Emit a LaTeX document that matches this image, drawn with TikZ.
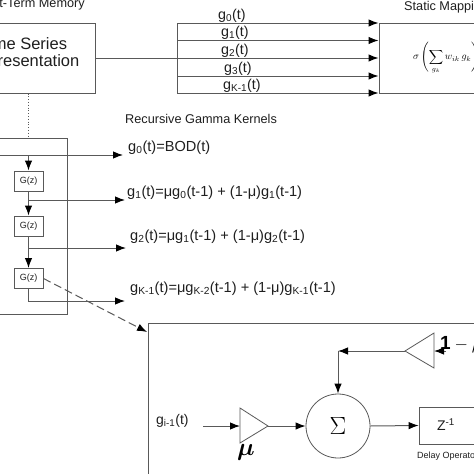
\documentclass[tikz,border=0pt]{standalone}
\usepackage{amsmath,amssymb}
\usepackage{fontspec}
\setmainfont{Liberation Sans}
\usepackage{xcolor}
\usetikzlibrary{arrows.meta,positioning,calc}
\definecolor{wireC}{gray}{0.35}
\definecolor{inkC}{gray}{0.12}
\tikzset{
  wire/.style={wireC,line width=1pt},
  wiretip/.style={wire,-{Latex[length=10pt,width=7.5pt,color=black]}},
  blockbox/.style={draw=wireC,line width=1pt,inner sep=0pt,text=inkC},
  gzbox/.style={blockbox,minimum width=29pt,minimum height=20pt,font=\fontsize{9}{10}\selectfont},
  eqn/.style={anchor=west,inner sep=0pt,text=inkC,font=\fontsize{14.6}{17}\selectfont},
  caption/.style={inner sep=0pt,text=inkC,font=\fontsize{12.7}{15}\selectfont}
}
\begin{document}
\begin{tikzpicture}[x=1pt,y=-1pt]
  \useasboundingbox (0,0) rectangle (474,474);
  \clip (0,0) rectangle (474,474);
  \fill[white] (0,0) rectangle (474,474);

  % Short-term memory
  \node[blockbox,minimum width=175pt,minimum height=70pt] (memory) at (8,58) {};
  \node[anchor=east,inner sep=0pt,align=center,text=inkC,font=\fontsize{16.5}{17}\selectfont] (memorytext) at (79.5,53.5) {Time Series\\Representation};
  \node[caption,anchor=east] (memorytitle) at (85,4) {Short-Term Memory};

  % Static mapping
  \node[blockbox,minimum width=200pt,minimum height=70pt] (static) at (479,58) {};
  \node[caption,anchor=west] (statictitle) at (404,7) {Static Mapping};
  \node[anchor=west,inner sep=0pt] (staticmath) at (413,58) {$\displaystyle\sigma\left(\sum_{g_k} w_{ik}\,g_k\right)$};

  % Bus with the kernel outputs
  \coordinate (busin) at (177,58);
  \draw[wire] (memory.east) -- (busin);
  \draw[wire] (177,23) -- (177,93);
  \foreach \yb/\name/\lab/\xl in {23/0/0/218,40.5/1/1/221,58/2/2/221,76/3/3/224,93/K/{K-1}/223}{
    \coordinate (bus\name) at (177,\yb);
    \draw[wiretip] (bus\name) -- (static.west |- bus\name);
    \node[anchor=base west,inner sep=0pt,text=inkC,font=\fontsize{14.3}{17}\selectfont] (glab\name) at (\xl,\yb-4) {g\textsubscript{\lab}(t)};
  }

  % Recursive gamma kernels
  \node[caption,anchor=west] (kerneltitle) at (125,119) {Recursive Gamma Kernels};
  \node[blockbox,minimum width=107pt,minimum height=176pt] (kernel) at (13.5,226) {};
  \node[gzbox] (gzA) at (28.5,181) {G(z)};
  \node[gzbox] (gzB) at (28.5,226) {G(z)};
  \node[gzbox] (gzC) at (28.5,278.5) {G(z)};
  \draw[wireC,line width=0.8pt,dotted] (gzA |- memory.south) -- (gzA |- kernel.north);

  \node[eqn] (eqA) at (128,148) {g\textsubscript{0}(t)=BOD(t)};
  \node[eqn] (eqB) at (127,192.5) {g\textsubscript{1}(t)=μg\textsubscript{0}(t-1) + (1-μ)g\textsubscript{1}(t-1)};
  \node[eqn] (eqC) at (130,236.5) {g\textsubscript{2}(t)=μg\textsubscript{1}(t-1) + (1-μ)g\textsubscript{2}(t-1)};
  \node[eqn] (eqD) at (130,289) {g\textsubscript{K-1}(t)=μg\textsubscript{K-2}(t-1) + (1-μ)g\textsubscript{K-1}(t-1)};

  \coordinate (tapA) at (-5,155);
  \coordinate (tapAend) at (123,155);
  \coordinate (tapB) at (gzA |- 0,200);
  \coordinate (tapBend) at (125,200);
  \coordinate (tapC) at (gzA |- 0,248);
  \coordinate (tapCend) at (126,248);
  \coordinate (tapD) at (gzA |- 0,301);
  \coordinate (tapDend) at (125,301);
  \draw[wiretip] (tapA) -- (tapAend);
  \draw[wiretip] (gzA |- tapA) -- (gzA.north);
  \draw[wiretip] (gzA.south) -- (gzB.north);
  \draw[wiretip] (gzB.south) -- (gzC.north);
  \draw[wiretip] (tapB) -- (tapBend);
  \draw[wiretip] (tapC) -- (tapCend);
  \draw[wiretip] (gzC.south) -- (tapD) -- (tapDend);

  % Detail of one kernel
  \node[blockbox,minimum width=400pt,minimum height=220pt] (detail) at (348,433) {};
  \coordinate (detailcorner) at (147,332);
  \draw[wiretip,dash pattern=on 8pt off 4pt] (gzC.east) -- (detailcorner);

  \node[draw=wireC,circle,line width=0.8pt,minimum size=64pt,inner sep=0pt,font=\fontsize{25}{26}\selectfont] (sum) at (338,426) {$\Sigma$};
  \node[blockbox,minimum width=80pt,minimum height=37pt,line width=0.8pt] (delay) at (459,425.5) {};
  \node[inner sep=0pt,text=inkC,font=\fontsize{14}{15}\selectfont] (delaytext) at (446,425) {Z\textsuperscript{-1}};
  \node[anchor=west,inner sep=0pt,text=inkC,font=\fontsize{9}{10}\selectfont] (delaycap) at (417,456) {Delay Operator};

  % Gain triangles
  \coordinate (mutip) at (268,426);
  \coordinate (mubase) at (240,426);
  \draw[wireC,line width=0.8pt] (240,408) -- (mutip) -- (240,443) -- cycle;
  \coordinate (fbtip) at (405,351);
  \coordinate (fbbase) at (434,351);
  \draw[wireC,line width=0.8pt] (434,333) -- (fbtip) -- (434,368) -- cycle;

  \coordinate (muin) at (203,426);
  \coordinate (fbin) at (446,351);
  \coordinate (fbturn) at (338,351);
  \draw[wiretip] (muin) -- (mubase);
  \draw[wiretip] (mutip) -- (sum.west);
  \draw[wiretip] (sum.east) -- (delay.west);
  \draw[wiretip] (fbin) -- (fbbase);
  \draw[wiretip] (fbtip) -- (fbturn);
  \draw[wiretip] (fbturn) -- (sum.north);

  \node[eqn,anchor=west,font=\fontsize{14}{15}\selectfont] (gin) at (156,421) {g\textsubscript{i-1}(t)};
  \node[text=black,font=\fontsize{24}{26}\selectfont] (mulab) at (246,452) {$\boldsymbol{\mu}$};
  \node[anchor=west,inner sep=0pt,text=black,font=\fontsize{19}{21}\selectfont] (fblab) at (440,345) {$\mathbf{1}-\mu$};
\end{tikzpicture}
\end{document}
